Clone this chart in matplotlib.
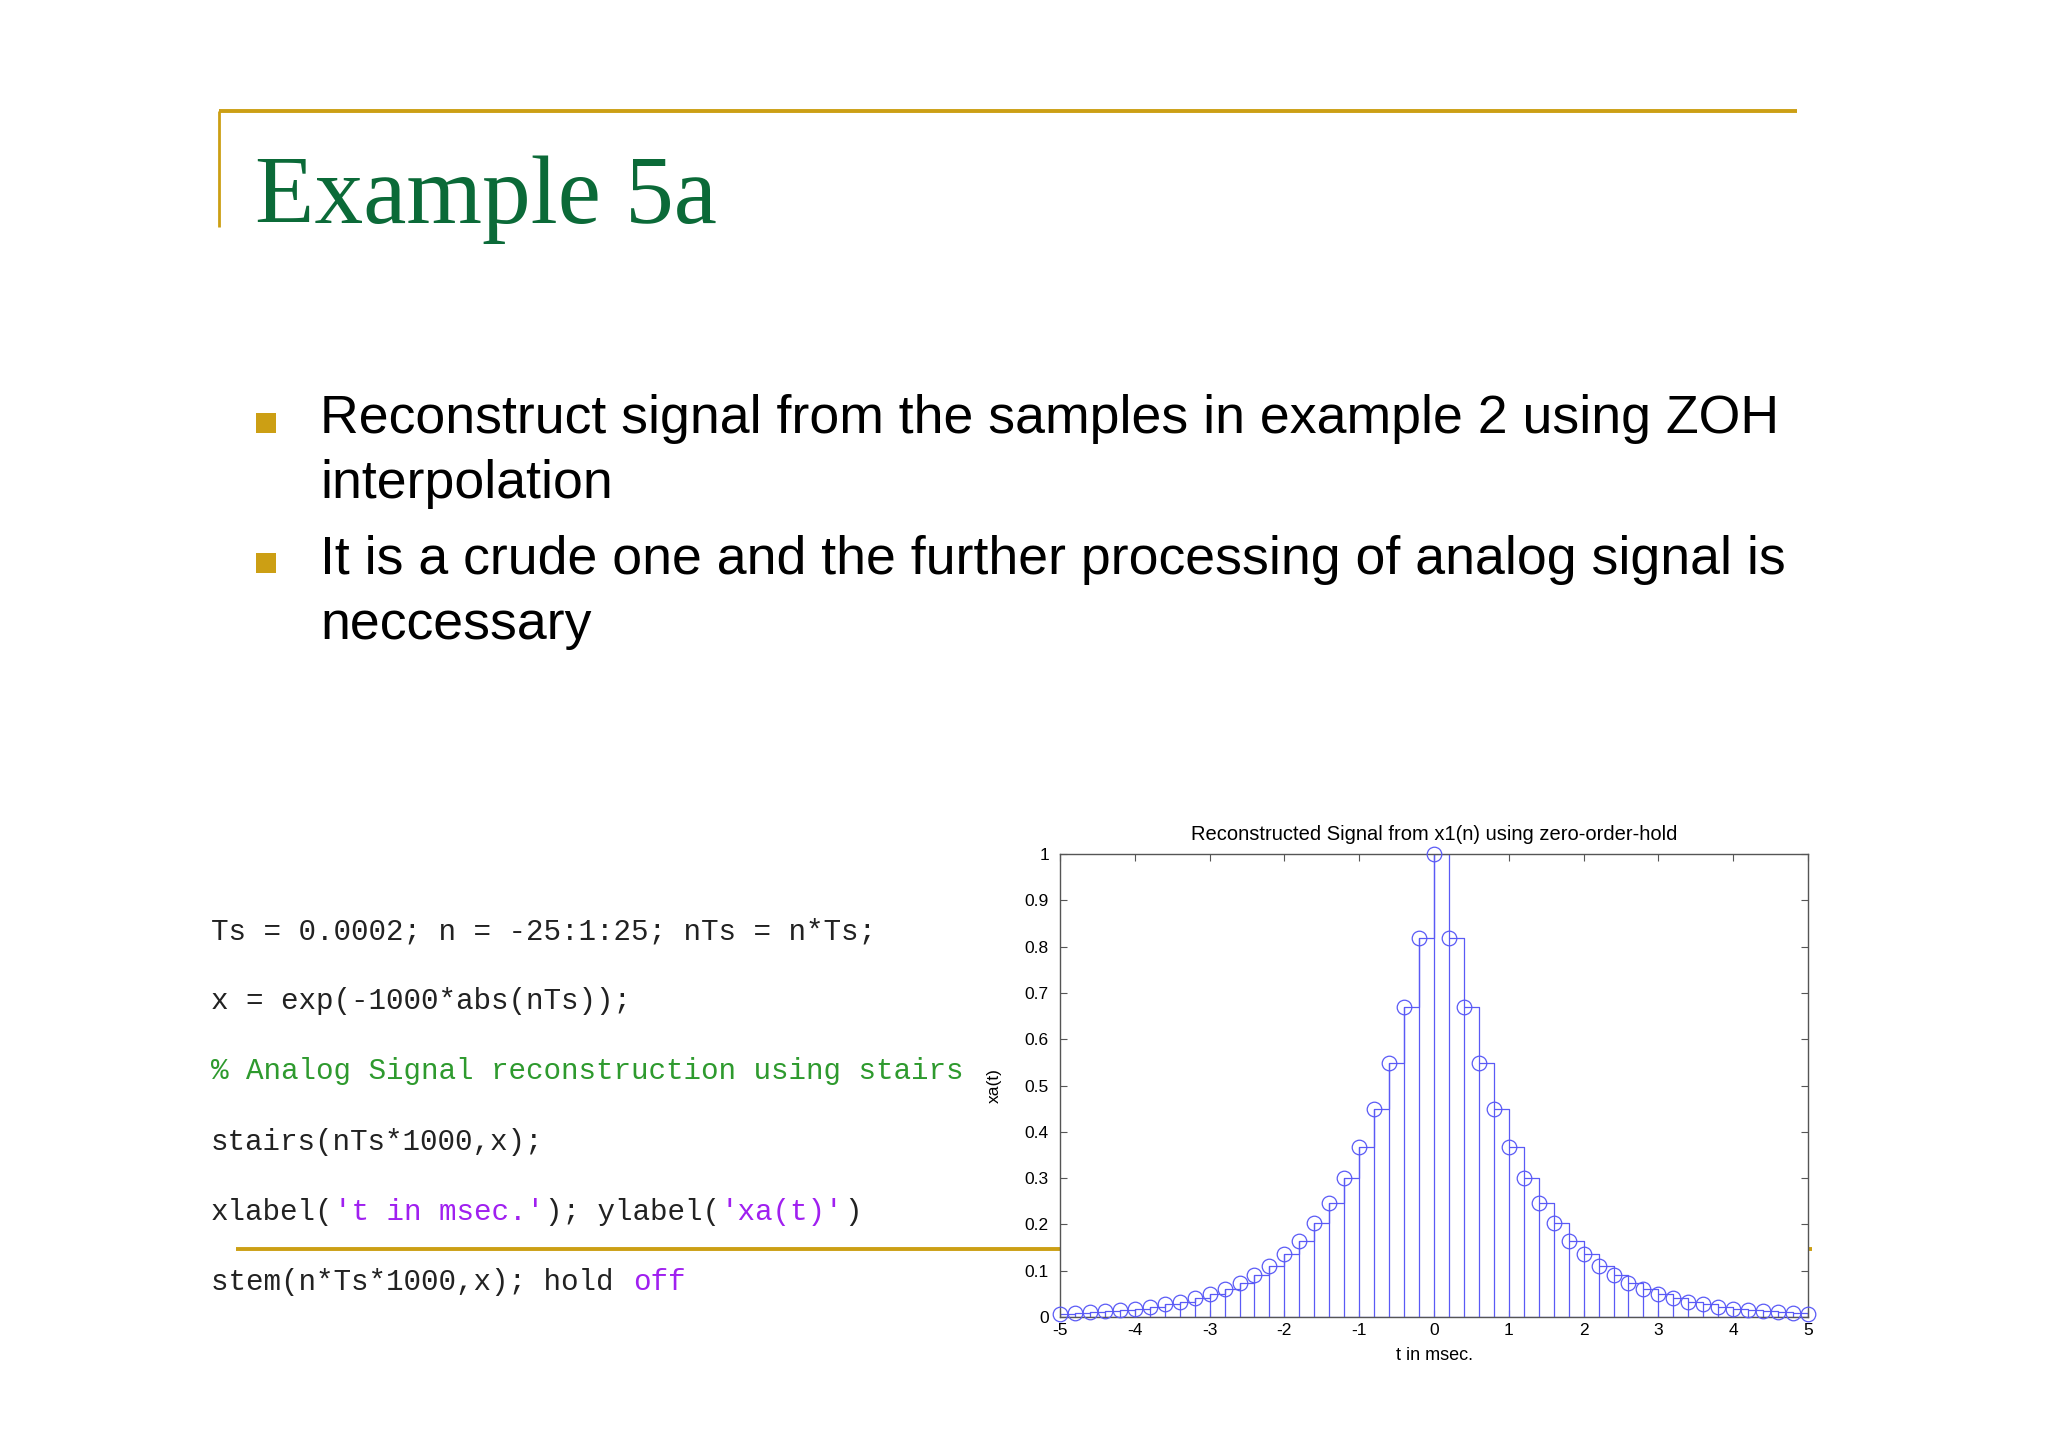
import matplotlib
matplotlib.use("Agg")
import matplotlib.pyplot as plt
from matplotlib.patches import Rectangle
import numpy as np

# sample times in msec (n = -25..25, Ts = 0.2 ms)
t_ms = np.round(np.arange(-25, 26) * 0.2, 1)

# sample values
x_vals = [0.007, 0.008, 0.010, 0.012, 0.015, 0.018, 0.022, 0.027, 0.033, 0.041,
          0.050, 0.061, 0.074, 0.091, 0.111, 0.135, 0.165, 0.202, 0.247, 0.301,
          0.368, 0.449, 0.549, 0.670, 0.819, 1.000, 0.819, 0.670, 0.549, 0.449,
          0.368, 0.301, 0.247, 0.202, 0.165, 0.135, 0.111, 0.091, 0.074, 0.061,
          0.050, 0.041, 0.033, 0.027, 0.022, 0.018, 0.015, 0.012, 0.010, 0.008,
          0.007]

x_ticks = [-5, -4, -3, -2, -1, 0, 1, 2, 3, 4, 5]
y_ticks = [0, 0.1, 0.2, 0.3, 0.4, 0.5, 0.6, 0.7, 0.8, 0.9, 1]
y_ticklabels = ['0', '0.1', '0.2', '0.3', '0.4', '0.5', '0.6', '0.7', '0.8', '0.9', '1']

slide_title = 'Example 5a'
bullets = [['Reconstruct signal from the samples in example 2 using ZOH', 'interpolation'],
           ['It is a crude one and the further processing of analog signal is', 'neccessary']]

# code lines as (text, colour-key) segments
code_lines = [
    [('Ts = 0.0002; n = -25:1:25; nTs = n*Ts;', 'k')],
    [('x = exp(-1000*abs(nTs));', 'k')],
    [('% Analog Signal reconstruction using stairs', 'c')],
    [('stairs(nTs*1000,x);', 'k')],
    [('xlabel(', 'k'), ("'t in msec.'", 's'), ('); ylabel(', 'k'), ("'xa(t)'", 's'), (')', 'k')],
    [('stem(n*Ts*1000,x); hold ', 'k'), ('off', 's')],
]
code_colors = {'k': '#222222', 'c': '#2e9a2e', 's': '#a020f0'}

GOLD = '#cc9f14'
GREEN = '#0b6a38'
BLUE = '#5a5af6'

W, H = 2048, 1448
fig = plt.figure(figsize=(W / 100, H / 100), dpi=100)
fig.patch.set_facecolor('white')

# background axes in pixel coords (y down)
bg = fig.add_axes([0, 0, 1, 1], zorder=0)
bg.set_xlim(0, W)
bg.set_ylim(H, 0)
bg.axis('off')

# decorative gold lines
bg.plot([219, 1797], [111, 111], color=GOLD, lw=2.8, solid_capstyle='butt')
bg.plot([219, 219], [111, 227], color=GOLD, lw=2.0, solid_capstyle='butt')
bg.plot([236, 1812], [1249, 1249], color=GOLD, lw=2.8, solid_capstyle='butt')

# title
bg.text(255, 223, slide_title, family='Liberation Serif', fontsize=70,
        color=GREEN, ha='left', va='baseline')

# bullets
bullet_tops = [413, 553]
line_baselines = [[433, 498], [574, 639]]
for b, top, bls in zip(bullets, bullet_tops, line_baselines):
    bg.add_patch(Rectangle((256, top), 20, 20, facecolor=GOLD, edgecolor='none'))
    for line, yb in zip(b, bls):
        bg.text(320, yb, line, family='Liberation Sans', fontsize=38.6,
                color='black', ha='left', va='baseline')

# code listing, monospace so segments are placed by character count
code_fs = 21.1
pitch = 0.6 * code_fs * 100 / 72
code_base = [939, 1009, 1079, 1150, 1220, 1290]
for segs, yb in zip(code_lines, code_base):
    col = 0
    for txt, key in segs:
        bg.text(211 + col * pitch, yb, txt, family='Liberation Mono', fontsize=code_fs,
                color=code_colors[key], ha='left', va='baseline')
        col += len(txt)

# the MATLAB plot
ax_l, ax_r, ax_t, ax_b = 1060, 1808, 854, 1317
ax = fig.add_axes([ax_l / W, 1 - ax_b / H, (ax_r - ax_l) / W, (ax_b - ax_t) / H], zorder=2)
ax.set_facecolor('white')

ax.step(t_ms, x_vals, where='post', color=BLUE, lw=0.9)
markerline, stemlines, baseline = ax.stem(t_ms, x_vals)
plt.setp(stemlines, color=BLUE, linewidth=0.9)
plt.setp(markerline, marker='o', markersize=10.5, markerfacecolor='none',
         markeredgecolor=BLUE, markeredgewidth=0.9, clip_on=False, zorder=5)
plt.setp(baseline, color=BLUE, linewidth=0.9)

ax.set_xlim(-5, 5)
ax.set_ylim(0, 1)
ax.set_xticks(x_ticks)
ax.set_xticklabels([str(v) for v in x_ticks])
ax.set_yticks(y_ticks)
ax.set_yticklabels(y_ticklabels)
ax.tick_params(direction='in', length=5, width=0.8, color='#555555',
               top=True, right=True, labelsize=12.5, labelcolor='black')
ax.tick_params(axis='y', pad=8)
ax.tick_params(axis='x', pad=4)
for lab in ax.get_xticklabels() + ax.get_yticklabels():
    lab.set_family('Liberation Sans')
for sp in ax.spines.values():
    sp.set_color('#555555')
    sp.set_linewidth(1.0)

ax.set_title('Reconstructed Signal from x1(n) using zero-order-hold',
             family='Liberation Sans', fontsize=14.5, pad=10)
ax.text(0.5, (ax_b - 1356) / (ax_b - ax_t), 't in msec.', transform=ax.transAxes,
        family='Liberation Sans', fontsize=13, ha='center', va='center')
ax.text((994 - ax_l) / (ax_r - ax_l), 0.5, 'xa(t)', transform=ax.transAxes,
        family='Liberation Sans', fontsize=12.5, ha='center', va='center', rotation=90)

fig.savefig('out.png', dpi=100, facecolor='white')
